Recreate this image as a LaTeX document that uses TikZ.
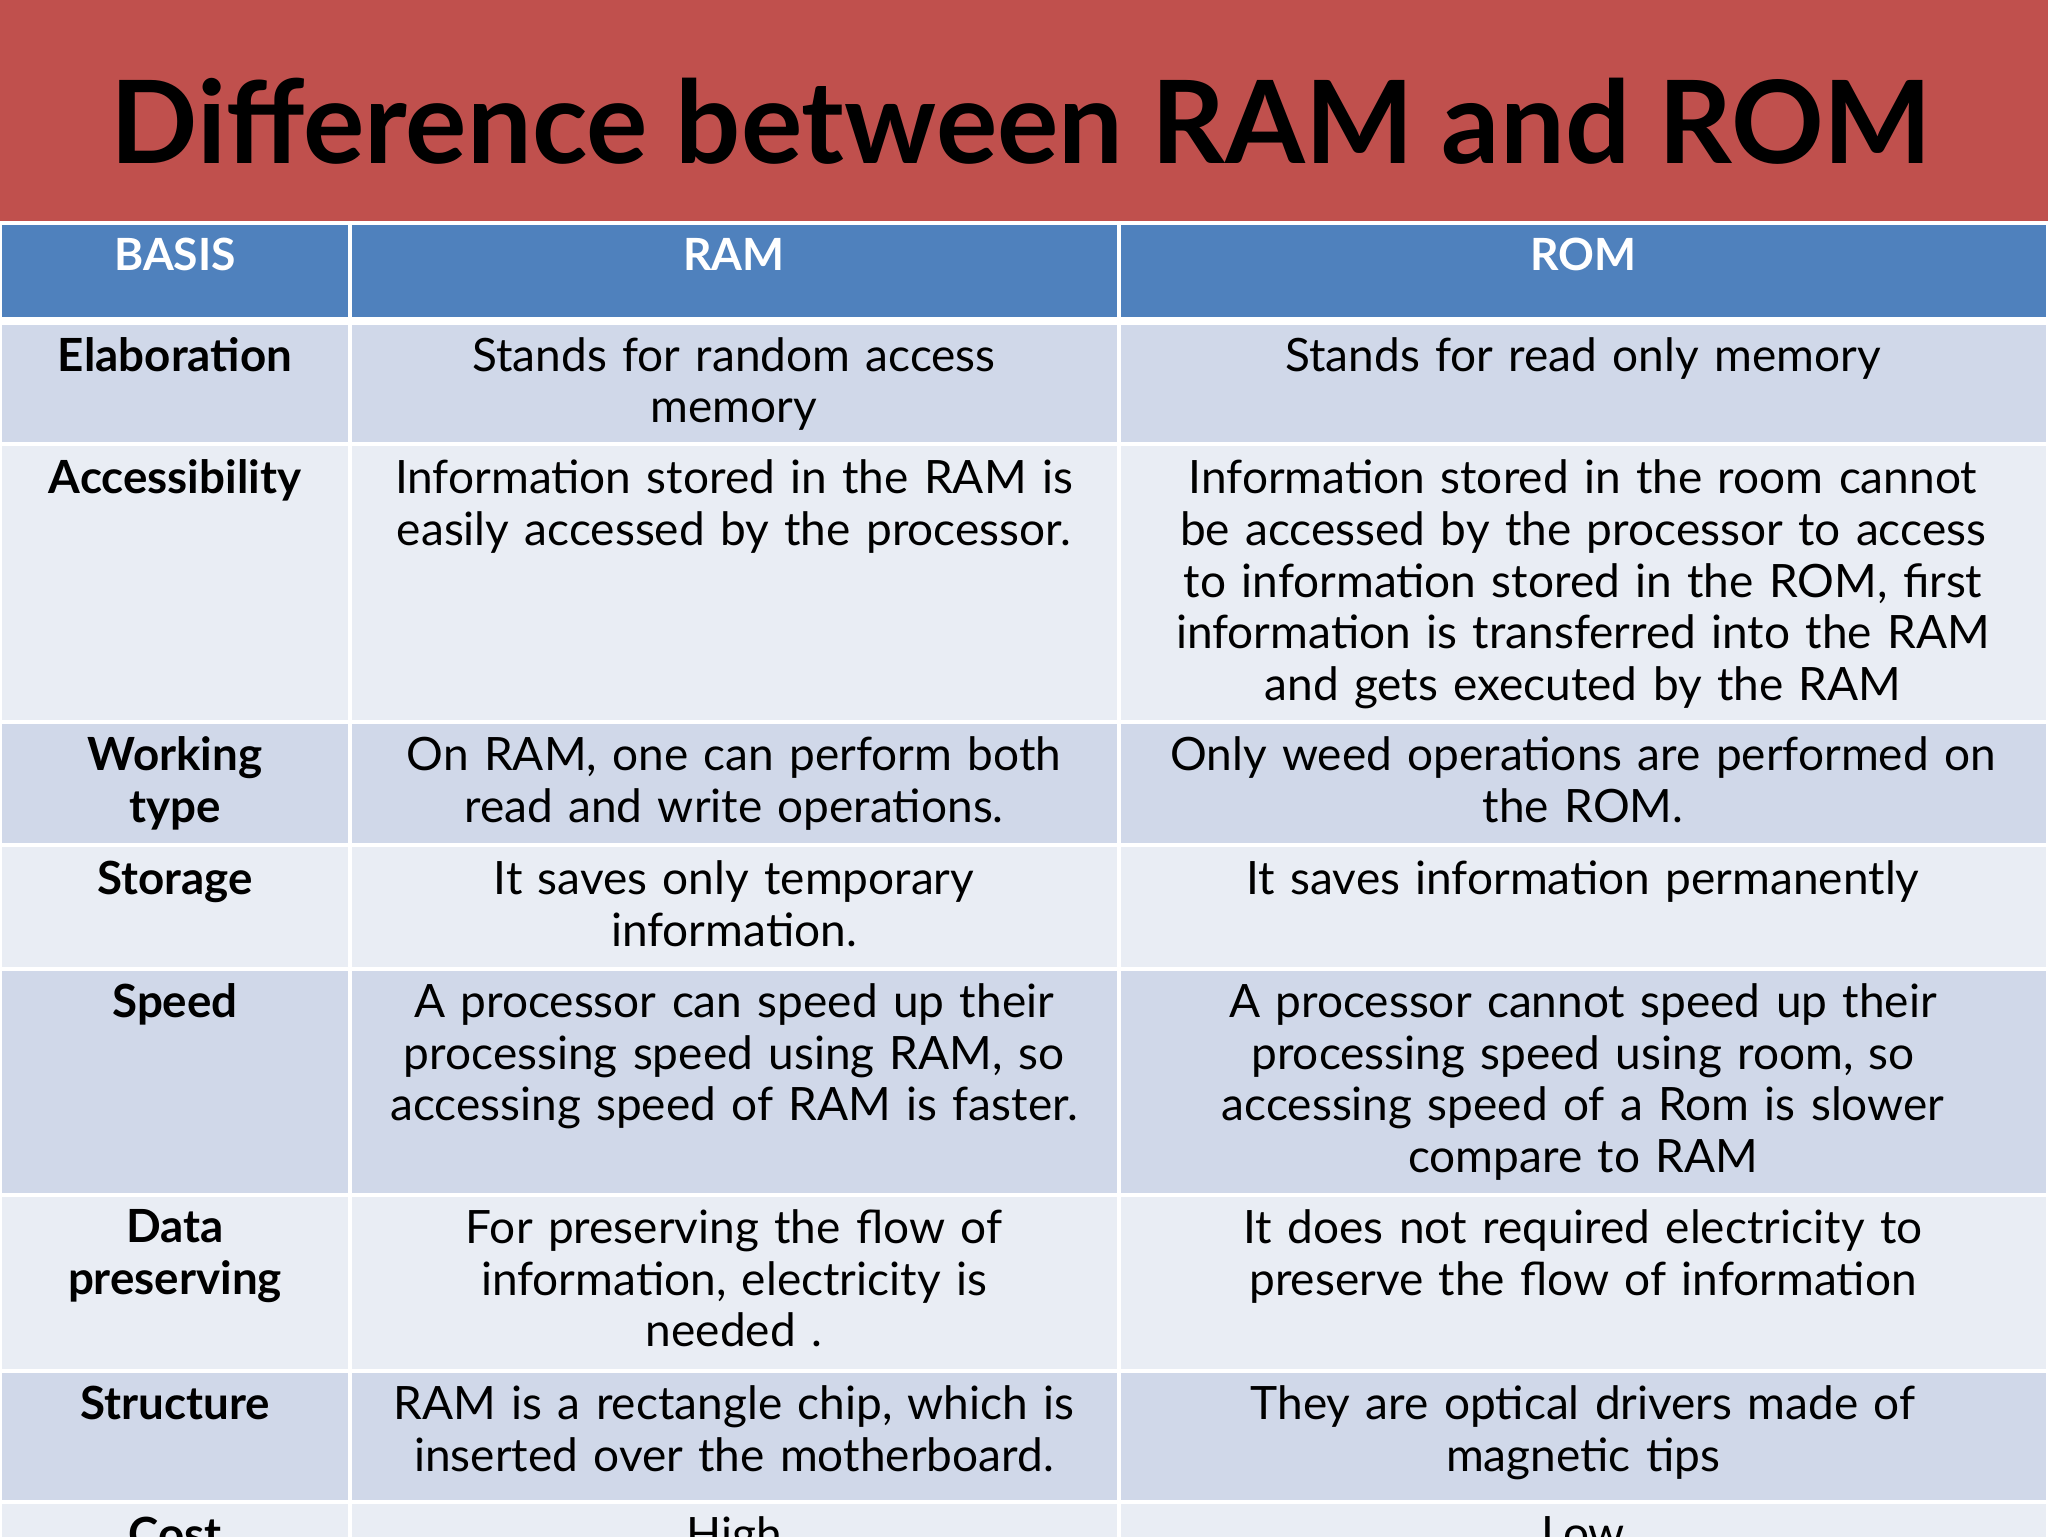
\documentclass[tikz,border=0pt]{standalone}
\usepackage{fontspec}
\setmainfont{Lato}
\definecolor{tred}{HTML}{C0504D}
\definecolor{hblue}{HTML}{4F81BD}
\definecolor{rowA}{HTML}{D0D8E9}
\definecolor{rowB}{HTML}{E9EDF4}
\tikzset{
  cell/.style={draw=white,line width=3pt},
  txt/.style={anchor=north,align=center,inner sep=0pt,font=\fontsize{35.2}{39.5}\selectfont},
  hdr/.style={txt,text=white,font=\fontsize{34}{39.5}\selectfont\bfseries},
  basis/.style={txt,font=\fontsize{35}{39.5}\selectfont\bfseries}
}
\begin{document}
\begin{tikzpicture}[x=1pt,y=-1pt]
\useasboundingbox (0,0) rectangle (1568,1176);
\clip (0,0) rectangle (1568,1176);
\fill[tred] (0,0) rectangle (1568,171);
\node[font=\fontsize{88}{96}\selectfont\bfseries] (title) at (782,93) {Difference between RAM and ROM};
% header
\foreach \a/\b in {0/268,268/857,857/1568}{\filldraw[hblue,cell] (\a,171) rectangle (\b,244);}
\node[hdr] (h1) at (134,182) {BASIS};
\node[hdr] (h2) at (562,182) {RAM};
\node[hdr] (h3) at (1212,182) {ROM};
% rows
\foreach \t/\bb/\c in {247/340/rowA,340/553/rowB,553/647/rowA,647/742/rowB,742/915/rowA,915/1050/rowB,1050/1150/rowA,1150/1200/rowB}{
  \foreach \a/\b in {0/268,268/857,857/1568}{\filldraw[fill=\c,cell] (\a,\t) rectangle (\b,\bb);}
}
\newcommand\Row[5]{%
 \node[basis,text width=264pt] (b#1) at (134,#2) {#3};
 \node[txt,text width=580pt] (r#1) at (562,#2) {#4};
 \node[txt,text width=700pt] (o#1) at (1212,#2) {#5};}
\Row{1}{258}{Elaboration}{Stands for random access\\memory}{Stands for read only memory}
\Row{2}{352}{Accessibility}{Information stored in the RAM is\\easily accessed by the processor.}{Information stored in the room cannot\\be accessed by the processor to access\\to information stored in the ROM, first\\information is transferred into the RAM\\and gets executed by the RAM}
\Row{3}{564}{Working\\type}{On RAM, one can perform both\\read and write operations.}{Only weed operations are performed on\\the ROM.}
\Row{4}{659}{Storage}{It saves only temporary\\information.}{It saves information permanently}
\Row{5}{753}{Speed}{A processor can speed up their\\processing speed using RAM, so\\accessing speed of RAM is faster.}{A processor cannot speed up their\\processing speed using room, so\\accessing speed of a Rom is slower\\compare to RAM}
\Row{6}{926}{Data\\preserving}{For preserving the flow of\\information, electricity is\\needed .}{It does not required electricity to\\preserve the flow of information}
\Row{7}{1061}{Structure}{RAM is a rectangle chip, which is\\inserted over the motherboard.}{They are optical drivers made of\\magnetic tips}
\Row{8}{1161}{Cost}{High}{Low}
\end{tikzpicture}
\end{document}
